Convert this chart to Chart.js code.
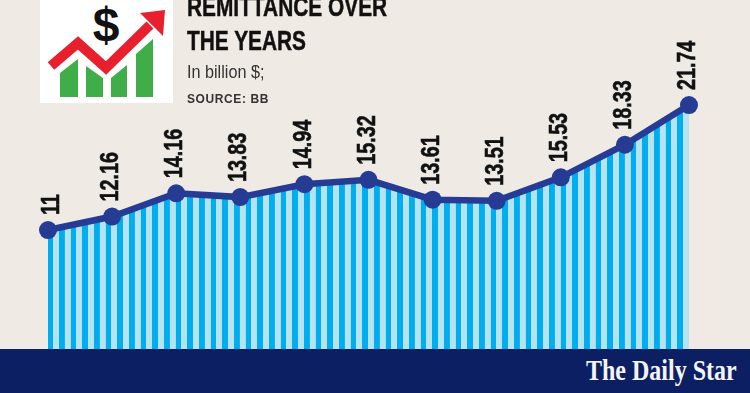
<!DOCTYPE html>
<html>
<head>
<meta charset="utf-8">
<script src="https://cdn.jsdelivr.net/npm/chart.js@4"></script>
<style>
  html, body { margin: 0; padding: 0; background: #efebe4; }
  #wrap { position: relative; width: 750px; height: 393px; overflow: hidden; background: #efebe4; }
  #myChart { position: absolute; left: 0; top: 0; }
  .txt { position: absolute; white-space: nowrap; color: #111; font-family: "Liberation Sans", sans-serif; transform-origin: left top; }
  #title { left: 187px; top: -10px; font-size: 28px; font-weight: bold; line-height: 34px; transform: scaleX(0.745); -webkit-text-stroke: 0.5px #111; }
  #unit { left: 187px; top: 62px; font-size: 18px; color: #333; transform: scaleX(0.9); }
  #source { left: 187px; top: 92px; font-size: 12px; font-weight: bold; letter-spacing: 0.6px; color: #333; }
  #icon { position: absolute; left: 40px; top: 0; width: 133px; height: 103px; background: #fff; }
  #banner { position: absolute; left: 0; top: 349px; width: 750px; height: 44px; background: #0c1f63; }
  #logo { position: absolute; left: 586px; top: 4px; color: #f4f4f4; font-family: "Liberation Serif", serif; font-weight: bold; font-size: 30px; white-space: nowrap; transform-origin: left top; transform: scaleX(0.8); }
</style>
</head>
<body>
<div id="wrap">
  <canvas id="myChart" width="750" height="393"></canvas>
  <div id="icon">
    <svg width="133" height="103" viewBox="0 0 133 103">
      <polygon points="20,73 38,59 38,97 20,97" fill="#3fae49"/>
      <polygon points="46,66 63,78 63,97 46,97" fill="#3fae49"/>
      <polygon points="71,78 87,65 87,97 71,97" fill="#3fae49"/>
      <polygon points="96,54 113,39 113,97 96,97" fill="#3fae49"/>
      <polyline points="11,66 38,43 66,68 110,25" fill="none" stroke="#e8202e" stroke-width="10"/>
      <polygon points="100,13 125,10 123,36" fill="#e8202e"/>
      <text x="66" y="0" text-anchor="middle" font-family="Liberation Sans" font-weight="bold" font-size="48" fill="#111" transform="translate(0,41)">$</text>
    </svg>
  </div>
  <div class="txt" id="title">REMITTANCE OVER<br>THE YEARS</div>
  <div class="txt" id="unit">In billion $;</div>
  <div class="txt" id="source">SOURCE: BB</div>
  <div id="banner"><div id="logo">The Daily Star</div></div>
</div>
<script>
// years sit behind the banner in the reference
var years = ["2010", "2011", "2012", "2013", "2014", "2015", "2016", "2017", "2018", "2019", "2020"];
var remittance = [11, 12.16, 14.16, 13.83, 14.94, 15.32, 13.61, 13.51, 15.53, 18.33, 21.74];
var valueLabels = ["11", "12.16", "14.16", "13.83", "14.94", "15.32", "13.61", "13.51", "15.53", "18.33", "21.74"];

// striped fill
var tile = document.createElement("canvas");
tile.width = 35;
tile.height = 1;
var tileCtx = tile.getContext("2d");
tileCtx.fillStyle = "#b5e3ef";
tileCtx.fillRect(0, 0, 35, 1);
tileCtx.fillStyle = "#00aeef";
tileCtx.fillRect(0, 0, 17, 1);

var canvas = document.getElementById("myChart");
var stripes = canvas.getContext("2d").createPattern(tile, "repeat");
stripes.setTransform(new DOMMatrix([1 / 3, 0, 0, 1, 47.3, 0]));

var rotatedLabels = {
  id: "rotatedLabels",
  afterDatasetsDraw: function (chart) {
    var ctx = chart.ctx;
    var points = chart.getDatasetMeta(0).data;
    ctx.save();
    ctx.fillStyle = "#111";
    ctx.strokeStyle = "#111";
    ctx.lineWidth = 0.6;
    ctx.font = "bold 26px 'Liberation Sans', sans-serif";
    ctx.textAlign = "left";
    ctx.textBaseline = "middle";
    for (var i = 0; i < points.length; i++) {
      ctx.save();
      // the first label sits a bit to the right of its point
      ctx.translate(points[i].x + (i == 0 ? 4 : -1), points[i].y - 15);
      ctx.rotate(-Math.PI / 2);
      ctx.scale(0.76, 1);
      ctx.fillText(valueLabels[i], 0, 0);
      ctx.strokeText(valueLabels[i], 0, 0);
      ctx.restore();
    }
    ctx.restore();
  }
};

var myChart = new Chart(canvas, {
  type: "line",
  data: {
    labels: years,
    datasets: [
      {
        data: remittance,
        borderColor: "#263c94",
        borderWidth: 6.5,
        backgroundColor: stripes,
        fill: "origin",
        lineTension: 0,
        pointRadius: 9,
        pointBackgroundColor: "#263c94",
        pointBorderWidth: 0,
        clip: false
      }
    ]
  },
  options: {
    responsive: false,
    animation: false,
    layout: { padding: { left: 48, right: 61, top: 9, bottom: 35 } },
    plugins: { legend: { display: false }, tooltip: { enabled: false } },
    scales: {
      x: { offset: false, display: false },
      y: { min: 0, max: 30, display: false }
    }
  },
  plugins: [rotatedLabels]
});
</script>
</body>
</html>
